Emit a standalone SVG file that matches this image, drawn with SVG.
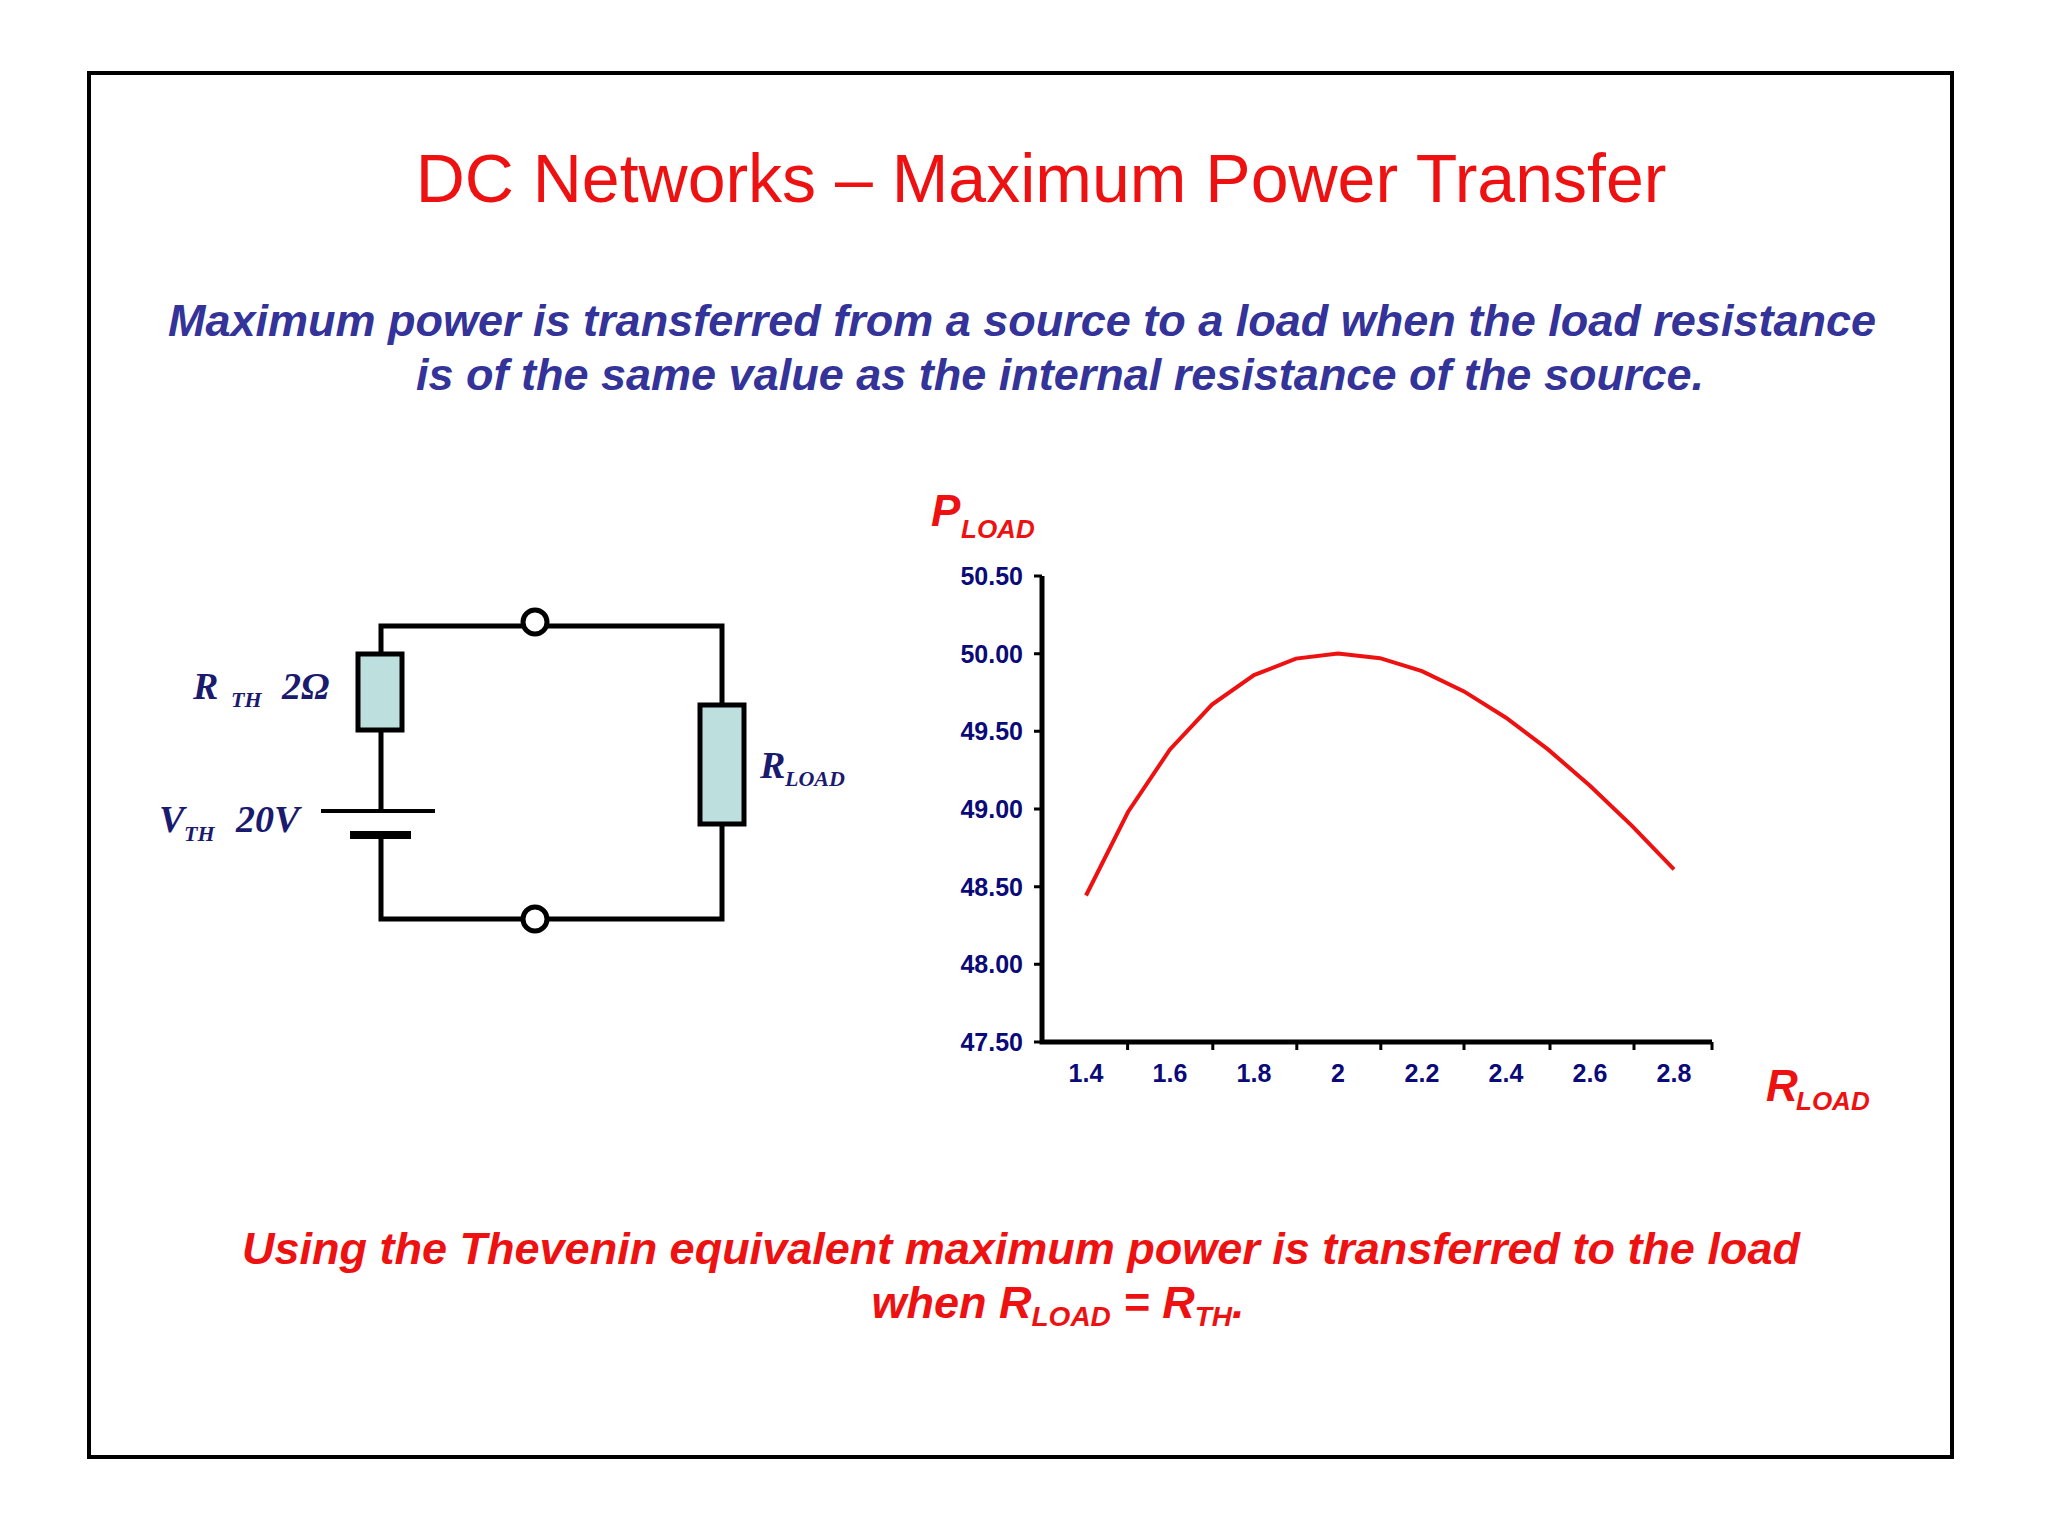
<svg xmlns="http://www.w3.org/2000/svg" width="2048" height="1536" viewBox="0 0 2048 1536">
<style>
.w{fill:none;stroke:#000;stroke-width:5}
.res{fill:#bde0df;stroke:#000;stroke-width:5}
.cl{font-family:"Liberation Serif",serif;font-weight:bold;font-style:italic;fill:#1a1a6e}
.ax{font-family:"Liberation Sans",Arial,sans-serif;font-weight:bold;font-size:25px;fill:#0a0a78}
.red{font-family:"Liberation Sans",Arial,sans-serif;font-weight:bold;font-style:italic;fill:#ee1111}
.blue{font-family:"Liberation Sans",Arial,sans-serif;font-weight:bold;font-style:italic;font-size:45px;fill:#333399}
</style>
<rect width="2048" height="1536" fill="#fff"/>
<rect x="89" y="73" width="1863" height="1384" fill="none" stroke="#000" stroke-width="4"/>
<text x="1041" y="202" text-anchor="middle" font-family="Liberation Sans,Arial,sans-serif" font-size="68" fill="#ee1111">DC Networks – Maximum Power Transfer</text>
<text class="blue" x="1022" y="336" text-anchor="middle">Maximum power is transferred from a source to a load when the load resistance</text>
<text class="blue" x="1060" y="390" text-anchor="middle">is of the same value as the internal resistance of the source.</text>
<g id="circuit">
<path class="w" d="M381 654 V626 H722 V705 M722 824 V919 H381 V835 M381 811 V730"/>
<line x1="321" y1="811" x2="435" y2="811" stroke="#000" stroke-width="4"/>
<line x1="350" y1="835" x2="411" y2="835" stroke="#000" stroke-width="8"/>
<rect id="rth" class="res" x="358" y="654" width="44" height="76"/>
<rect id="rload" class="res" x="700" y="705" width="44" height="119"/>
<circle id="t1" cx="535" cy="622" r="12" fill="#fff" stroke="#000" stroke-width="5"/>
<circle id="t2" cx="535" cy="919" r="12" fill="#fff" stroke="#000" stroke-width="5"/>
<text class="cl" x="193" y="699" font-size="38">R</text>
<text class="cl" x="231" y="707" font-size="22">TH</text>
<text class="cl" x="282" y="699" font-size="38">2Ω</text>
<text class="cl" x="159" y="832" font-size="38">V</text>
<text class="cl" x="184" y="841" font-size="22">TH</text>
<text class="cl" x="236" y="832" font-size="38">20V</text>
<text class="cl" x="760" y="778" font-size="38">R</text>
<text class="cl" x="785" y="786" font-size="22">LOAD</text>
</g>
<g id="chart">
<path class="w" d="M1042 576 V1042 H1712" stroke-width="4"/>
<path d="M1034 576H1042M1034 653.7H1042M1034 731.3H1042M1034 809H1042M1034 886.7H1042M1034 964.3H1042M1034 1042H1042M1127.6 1042V1050M1212.8 1042V1050M1296.8 1042V1050M1380.8 1042V1050M1464 1042V1050M1550 1042V1050M1634 1042V1050M1712 1042V1050" stroke="#000" stroke-width="3"/>
<g class="ax" text-anchor="end">
<text x="1023" y="585">50.50</text><text x="1023" y="663">50.00</text><text x="1023" y="740">49.50</text><text x="1023" y="818">49.00</text><text x="1023" y="896">48.50</text><text x="1023" y="973">48.00</text><text x="1023" y="1051">47.50</text>
</g>
<g class="ax" text-anchor="middle">
<text x="1086" y="1082">1.4</text><text x="1170" y="1082">1.6</text><text x="1254" y="1082">1.8</text><text x="1338" y="1082">2</text><text x="1422" y="1082">2.2</text><text x="1506" y="1082">2.4</text><text x="1590" y="1082">2.6</text><text x="1674" y="1082">2.8</text>
</g>
<polyline fill="none" stroke="#ee1111" stroke-width="4" points="1086,895.5 1128,812 1170,749.4 1212,704.6 1254,675.1 1296,658.6 1338,653.5 1380,658.2 1422,671.1 1464,691.4 1506,717.7 1548,749.4 1590,785.7 1632,825.8 1674,869.3"/>
<text class="red" x="931" y="526" font-size="44">P</text>
<text class="red" x="961" y="538" font-size="26">LOAD</text>
<text class="red" x="1766" y="1101" font-size="44">R</text>
<text class="red" x="1796" y="1110" font-size="26">LOAD</text>
</g>
<text class="red" x="1021" y="1264" font-size="45" text-anchor="middle">Using the Thevenin equivalent maximum power is transferred to the load</text>
<text class="red" x="1058" y="1318" font-size="45" text-anchor="middle">when R<tspan font-size="28" dy="8">LOAD</tspan><tspan dy="-8"> = R</tspan><tspan font-size="28" dy="8">TH</tspan><tspan dy="-8">.</tspan></text>
</svg>
